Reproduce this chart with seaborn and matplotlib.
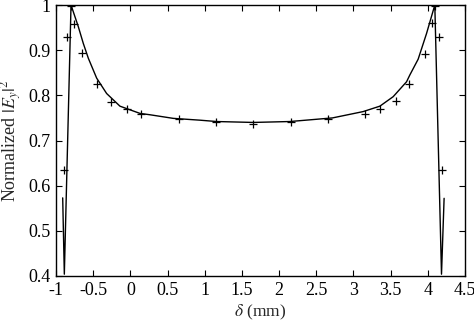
import matplotlib
matplotlib.use("Agg")
import matplotlib.pyplot as plt
import seaborn as sns
import pandas as pd

# Simulated curve (solid line)
line_x = [-0.91, -0.888, -0.798, -0.700, -0.633, -0.565, -0.453, -0.319, -0.140, 0.129, 0.263,
          0.577, 0.935, 1.160, 1.652, 2.145, 2.360, 2.718, 3.130, 3.355, 3.534, 3.714, 3.758,
          3.870, 3.983, 4.094, 4.184, 4.219]
line_y = [0.573, 0.404, 1.000, 0.952, 0.915, 0.882, 0.838, 0.804, 0.776, 0.760, 0.757,
          0.749, 0.745, 0.742, 0.740, 0.742, 0.745, 0.750, 0.764, 0.776, 0.797, 0.830, 0.845,
          0.880, 0.937, 1.000, 0.404, 0.572]

# Measured points (+ markers)
pts_x = [-0.888, -0.848, -0.798, -0.754, -0.655, -0.453, -0.261, -0.042, 0.142, 0.657, 1.151,
         1.652, 2.159, 2.652, 3.153, 3.355, 3.566, 3.749, 3.960, 4.058, 4.094, 4.152, 4.192]
pts_y = [0.635, 0.930, 0.998, 0.959, 0.893, 0.824, 0.786, 0.769, 0.758, 0.748, 0.740,
         0.737, 0.740, 0.748, 0.759, 0.769, 0.787, 0.824, 0.891, 0.961, 0.998, 0.930, 0.635]

x_ticks = [-1, -0.5, 0, 0.5, 1, 1.5, 2, 2.5, 3, 3.5, 4, 4.5]
y_ticks = [0.4, 0.5, 0.6, 0.7, 0.8, 0.9, 1]

sns.set_style("ticks")
plt.rcParams['font.family'] = ['Liberation Serif']
plt.rcParams['mathtext.fontset'] = 'stix'

fig = plt.figure(figsize=(4.74, 3.23), dpi=100)
ax = fig.add_axes([56/474, 1 - 276/323, (465 - 56)/474, (276 - 5)/323])

line_df = pd.DataFrame({"x": line_x, "y": line_y})
pts_df = pd.DataFrame({"x": pts_x, "y": pts_y})

sns.lineplot(data=line_df, x="x", y="y", ax=ax, color="black", linewidth=1.0, sort=False)
sns.scatterplot(data=pts_df, x="x", y="y", ax=ax, marker="+", color="black", s=30, linewidth=0.9)

ax.set_xlim(-1, 4.5)
ax.set_ylim(0.4, 1)
ax.set_xticks(x_ticks)
ax.set_xticklabels([f"{t:g}" for t in x_ticks])
ax.set_yticks(y_ticks)
ax.set_yticklabels([f"{t:g}" for t in y_ticks])
ax.tick_params(direction="in", top=True, right=True, length=4, width=0.8, labelsize=13, colors="black", pad=4)
for s in ax.spines.values():
    s.set_linewidth(1.0)
    s.set_color("black")

ax.set_xlabel(r"$\delta$ (mm)", fontsize=12.5, labelpad=3)
ax.set_ylabel(r"Normalized $|E_y|^2$", fontsize=13, labelpad=3)

fig.savefig("out.png", dpi=100)
